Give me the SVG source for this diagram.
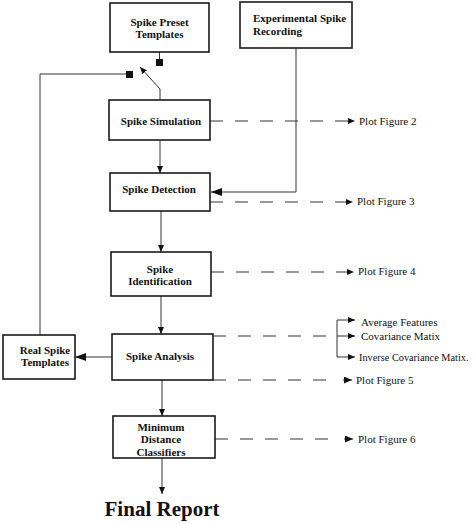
<svg xmlns="http://www.w3.org/2000/svg" width="474" height="524" viewBox="0 0 474 524">
<defs>
<style>
.box{fill:#fff;stroke:#1a1a1a;stroke-width:1.6}
.bt{font-family:"Liberation Serif","Times New Roman",serif;font-weight:bold;font-size:11px;fill:#111;text-anchor:middle}
.lt{font-family:"Liberation Serif","Times New Roman",serif;font-size:11px;fill:#111}
.ln{fill:none;stroke:#333;stroke-width:1}
.dash{fill:none;stroke:#333;stroke-width:1;stroke-dasharray:13 12}
</style>
<marker id="a" markerUnits="userSpaceOnUse" markerWidth="8" markerHeight="6" refX="7" refY="3" orient="auto"><path d="M0,0 L7,3 L0,6 z" fill="#111"/></marker>
<marker id="c" markerUnits="userSpaceOnUse" markerWidth="9" markerHeight="7" refX="8" refY="3.5" orient="auto"><path d="M0,0 L8,3.5 L0,7 z" fill="#111"/></marker>
<marker id="b" markerUnits="userSpaceOnUse" markerWidth="12" markerHeight="8" refX="11" refY="4" orient="auto"><path d="M0,0 L11,4 L0,8 z" fill="#111"/></marker>
</defs>
<rect width="474" height="524" fill="#fff"/>
<g id="connectors">
<path class="ln" d="M159.5,52 V59"/>
<rect x="156" y="59" width="7" height="7" fill="#111"/>
<path class="ln" d="M40,335 V74 H126"/>
<rect x="126" y="71" width="7" height="7" fill="#111"/>
<path class="ln" d="M160,100 V89 L140,67" marker-end="url(#a)"/>
<path class="ln" d="M160,140 V173" marker-end="url(#a)"/>
<path class="ln" d="M296,48 V192 H211" marker-end="url(#b)"/>
<path class="ln" d="M161,211 V252" marker-end="url(#a)"/>
<path class="ln" d="M161,296 V334" marker-end="url(#a)"/>
<path class="ln" d="M112,357 H75" marker-end="url(#b)"/>
<path class="ln" d="M162,380 V416" marker-end="url(#a)"/>
<path class="ln" d="M162,458 V494" marker-end="url(#a)"/>
<path class="dash" d="M210,121 H355" marker-end="url(#a)"/>
<path class="dash" d="M210,202 H353" marker-end="url(#a)"/>
<path class="dash" d="M211,272 H354" marker-end="url(#a)"/>
<path class="dash" d="M213,336 H337"/>
<path class="ln" d="M337,320 V357 H355" marker-end="url(#a)"/>
<path class="ln" d="M337,320 H355" marker-end="url(#a)"/>
<path class="ln" d="M337,336 H355" marker-end="url(#a)"/>
<path class="dash" d="M213,380 H333"/>
<path class="ln" d="M343,380 H352" marker-end="url(#c)"/>
<path class="dash" d="M215,439 H333"/>
<path class="ln" d="M344,439 H353" marker-end="url(#c)"/>
</g>
<g id="spike-preset-templates">
<rect class="box" x="110" y="3" width="99" height="49"/>
<text class="bt" x="159.5" y="26">Spike Preset</text>
<text class="bt" x="159.5" y="38">Templates</text>
</g>
<g id="experimental-spike-recording">
<rect class="box" x="240" y="2" width="112" height="46"/>
<text class="bt" x="253" y="22" style="text-anchor:start">Experimental Spike</text>
<text class="bt" x="253" y="35" style="text-anchor:start">Recording</text>
</g>
<g id="spike-simulation">
<rect class="box" x="109" y="100" width="101" height="40"/>
<text class="bt" x="161" y="125">Spike Simulation</text>
</g>
<g id="spike-detection">
<rect class="box" x="110" y="173" width="100" height="38"/>
<text class="bt" x="159" y="193">Spike Detection</text>
</g>
<g id="spike-identification">
<rect class="box" x="111" y="252" width="100" height="44"/>
<text class="bt" x="160" y="273">Spike</text>
<text class="bt" x="160" y="285">Identification</text>
</g>
<g id="spike-analysis">
<rect class="box" x="112" y="334" width="101" height="46"/>
<text class="bt" x="160" y="360">Spike Analysis</text>
</g>
<g id="real-spike-templates">
<rect class="box" x="3" y="335" width="72" height="44"/>
<text class="bt" x="45" y="354">Real Spike</text>
<text class="bt" x="45" y="366">Templates</text>
</g>
<g id="minimum-distance-classifiers">
<rect class="box" x="113" y="416" width="102" height="42"/>
<text class="bt" x="161" y="431">Minimum</text>
<text class="bt" x="161" y="443">Distance</text>
<text class="bt" x="161" y="456">Classifiers</text>
</g>
<g id="outputs">
<text class="lt" x="359" y="125">Plot Figure 2</text>
<text class="lt" x="357" y="205">Plot Figure 3</text>
<text class="lt" x="358" y="275">Plot Figure 4</text>
<text class="lt" x="361" y="326">Average Features</text>
<text class="lt" x="361" y="340">Covariance Matix</text>
<text class="lt" x="359" y="361" style="font-size:10.3px">Inverse Covariance Matix.</text>
<text class="lt" x="356" y="384">Plot Figure 5</text>
<text class="lt" x="358" y="443">Plot Figure 6</text>
</g>
<g id="final-report">
<text x="162" y="516" style="font-family:'Liberation Serif','Times New Roman',serif;font-weight:bold;font-size:21px;fill:#111;text-anchor:middle">Final Report</text>
</g>
</svg>
